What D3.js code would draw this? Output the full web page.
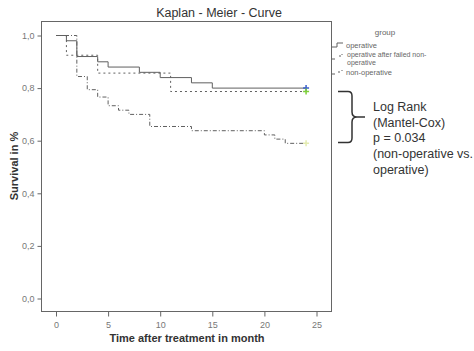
<!DOCTYPE html>
<html>
<head>
<meta charset="utf-8">
<script src="https://cdn.jsdelivr.net/npm/d3@7"></script>
<style>
  body { margin: 0; background: #fff; }
  svg { display: block; font-family: 'Liberation Sans', Arial, sans-serif; }
</style>
</head>
<body>
<svg id="kmsvg" width="474" height="351"></svg>
<script>
// survival data (time in months)
var opTimes = [0, 1, 2, 4, 5, 8, 10, 13, 15, 24];
var opSurv = [1, 0.98, 0.92, 0.9, 0.88, 0.86, 0.84, 0.82, 0.8, 0.8];

var failTimes = [0, 1, 4, 11, 24];
var failSurv = [1, 0.925, 0.857, 0.787, 0.787];

var nonTimes = [0, 2, 3, 4, 5, 6, 7, 9, 13, 20, 21, 22, 24];
var nonSurv = [1, 0.844, 0.794, 0.766, 0.733, 0.716, 0.7, 0.654, 0.638, 0.622, 0.606, 0.59, 0.59];

var xTicks = [0, 5, 10, 15, 20, 25];
var yTicks = [0, 0.2, 0.4, 0.6, 0.8, 1.0];

var groups = ['operative', 'operative after failed non-operative', 'non-operative'];
var statLines = ['Log Rank', '(Mantel-Cox)', 'p = 0.034', '(non-operative vs.', 'operative)'];

var svg = d3.select('#kmsvg');

var xScale = d3.scaleLinear().domain([0, 25]).range([56, 316.5]);
var yScale = d3.scaleLinear().domain([0, 1]).range([298.5, 35.5]);

// plot frame
svg.append('rect')
  .attr('x', 41.5)
  .attr('y', 21.5)
  .attr('width', 290)
  .attr('height', 290)
  .attr('fill', '#fff')
  .attr('stroke', '#666')
  .attr('stroke-width', 1);

var yAxis = svg.append('g')
  .attr('transform', 'translate(41.5,0)')
  .call(d3.axisLeft(yScale)
    .tickValues(yTicks)
    .tickSize(4)
    .tickFormat(d => d3.format('.1f')(d).replace('.', ',')));

var xAxis = svg.append('g')
  .attr('transform', 'translate(0,311.5)')
  .call(d3.axisBottom(xScale).tickValues(xTicks).tickSize(5));

[xAxis, yAxis].forEach(ax => {
  ax.select('.domain').remove();
  ax.selectAll('line').attr('stroke', '#666');
  ax.selectAll('text')
    .attr('fill', '#777')
    .style('font-size', '9px')
    .style('font-family', "'Liberation Sans', Arial, sans-serif");
});
xAxis.selectAll('text').attr('dy', '0.9em');

// curves
var series = [
  { t: opTimes, s: opSurv, dash: null, mark: '#3a5fcd' },
  { t: failTimes, s: failSurv, dash: '2,3', mark: '#7ed03a' },
  { t: nonTimes, s: nonSurv, dash: '4,2,1,2', mark: '#e4ecb0' }
];

var line = d3.line()
  .x(d => xScale(d[0]))
  .y(d => yScale(d[1]))
  .curve(d3.curveStepAfter);

series.forEach(ser => {
  var pts = ser.t.map((t, i) => [t, ser.s[i]]);
  svg.append('path')
    .datum(pts)
    .attr('d', line)
    .attr('fill', 'none')
    .attr('stroke', '#606060')
    .attr('stroke-width', 1)
    .attr('stroke-dasharray', ser.dash);

  // censor mark at the end
  var last = pts[pts.length - 1];
  var cx = xScale(last[0]), cy = yScale(last[1]);
  svg.append('path')
    .attr('d', `M${cx - 3},${cy}H${cx + 3}M${cx},${cy - 3}V${cy + 3}`)
    .attr('stroke', ser.mark)
    .attr('stroke-width', 1.5);
});

// titles
svg.append('text')
  .attr('x', 219)
  .attr('y', 17)
  .attr('text-anchor', 'middle')
  .attr('fill', '#333')
  .style('font-size', '12.5px')
  .text('Kaplan - Meier - Curve');

svg.append('text')
  .attr('transform', 'translate(18,166) rotate(-90)')
  .attr('text-anchor', 'middle')
  .attr('fill', '#333')
  .style('font-size', '11px')
  .style('font-weight', 'bold')
  .text('Survival in %');

svg.append('text')
  .attr('x', 187)
  .attr('y', 342)
  .attr('text-anchor', 'middle')
  .attr('fill', '#333')
  .style('font-size', '11px')
  .style('font-weight', 'bold')
  .text('Time after treatment in month');

// legend
var lg = svg.append('g').style('font-size', '7.5px').attr('fill', '#666');
lg.append('text').attr('x', 385).attr('y', 35).attr('text-anchor', 'middle').style('font-size', '8px').text('group');

lg.append('path')
  .attr('d', 'M332,47H337V43H343')
  .attr('fill', 'none')
  .attr('stroke', '#606060');
lg.append('text').attr('x', 346).attr('y', 48).text(groups[0]);

lg.append('path')
  .attr('d', 'M332,59H335M339,56H341M342,54V55')
  .attr('fill', 'none')
  .attr('stroke', '#606060');
var wrapped = lg.append('text').attr('x', 347).attr('y', 57).style('font-size', '7px');
wrapped.append('tspan').attr('x', 347).text('operative after failed non-');
wrapped.append('tspan').attr('x', 347).attr('dy', 8).text('operative');

lg.append('path')
  .attr('d', 'M332,74H335M338,72H340M342,70V71')
  .attr('fill', 'none')
  .attr('stroke', '#606060');
lg.append('text').attr('x', 346).attr('y', 74.5).text(groups[2]);

// bracket + log rank text
svg.append('path')
  .attr('d', 'M338,91.5H348Q352,91.5 352,96V112Q352,117 357,117H365M357,117Q352,117 352,122V138Q352,142.5 348,142.5H338')
  .attr('fill', 'none')
  .attr('stroke', '#333')
  .attr('stroke-width', 1.5);

svg.append('g')
  .selectAll('text')
  .data(statLines)
  .join('text')
  .attr('x', 373)
  .attr('y', (d, i) => 111 + i * 15.7)
  .attr('fill', '#333')
  .style('font-size', '12.5px')
  .text(d => d);
</script>
</body>
</html>
